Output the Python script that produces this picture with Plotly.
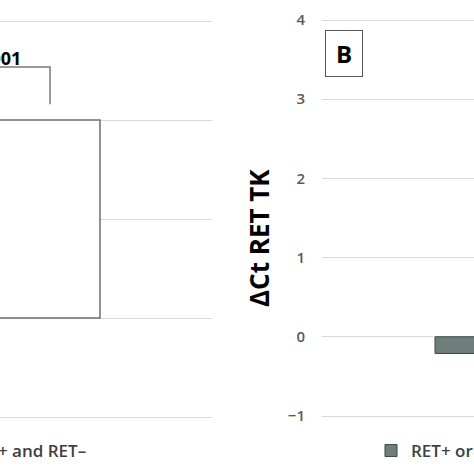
import plotly.graph_objs as go

# --------------
# Data
# --------------
# left panel (A): box of RET+ and RET- samples, only its right part is visible
left_categories = ["RET+ and RET–"]
left_pos = [0]
left_q1 = [2.0]
left_q3 = [6.0]
left_ticks = [0, 2, 4, 6, 8]
bracket_x = [-0.5, 0.137, 0.137]
bracket_y = [7.07, 7.07, 6.32]
p_label = "p < 0.001"

# right panel (B): delta Ct RET TK
right_categories = ["RET+ or RET–"]
right_values = [-0.21]
right_ticks = [-1, 0, 1, 2, 3, 4]

grid_col = "#d9d9d9"
text_col = "#595959"

fig = go.Figure()

# box drawn as a floating bar (q1 -> q3)
fig.add_trace(go.Bar(
    x=left_pos,
    y=[q3 - q1 for q1, q3 in zip(left_q1, left_q3)],
    base=left_q1,
    width=0.745,
    marker=dict(color="white", line=dict(color="#6d6d6d", width=1.5)),
    name=left_categories[0],
    xaxis="x", yaxis="y",
    legend="legend2",
))

# significance bracket
fig.add_trace(go.Scatter(
    x=bracket_x, y=bracket_y,
    mode="lines",
    line=dict(color="#7a7a7a", width=1.5),
    showlegend=False,
    xaxis="x", yaxis="y",
))

fig.add_trace(go.Bar(
    x=right_categories,
    y=right_values,
    width=0.6,
    marker=dict(color="#6e7e7a", line=dict(color="#3c4643", width=1)),
    name=right_categories[0],
    xaxis="x2", yaxis="y2",
    legend="legend",
))

fig.add_annotation(
    x=0.01, y=7.25, xref="x", yref="y",
    text="<b>" + p_label + "</b>",
    xanchor="right", yanchor="middle", showarrow=False,
    font=dict(family="Open Sans", size=18, color="black"),
)

fig.add_annotation(
    x=259 / 474, y=1 - 238 / 474, xref="paper", yref="paper",
    text="<b>ΔCt RET TK</b>",
    textangle=-90, showarrow=False,
    xanchor="center", yanchor="middle",
    font=dict(family="Open Sans", size=26, color="black"),
)

fig.add_annotation(
    x=344 / 474, y=1 - 53.5 / 474, xref="paper", yref="paper",
    text="<b>B</b>", showarrow=False,
    xanchor="center", yanchor="middle",
    width=36, height=45,
    bordercolor="#595959", borderwidth=1, borderpad=0,
    font=dict(family="Open Sans", size=24, color="black"),
)

legend_font = dict(family="Open Sans", size=17, color="#404040", weight=600)

fig.update_layout(
    width=474, height=474,
    margin=dict(l=0, r=0, t=0, b=0, autoexpand=False),
    paper_bgcolor="white", plot_bgcolor="white",
    xaxis=dict(domain=[0, 212 / 474], range=[-0.0991, 0.9009],
               showticklabels=False, showgrid=False, zeroline=False),
    yaxis=dict(range=[-1.1515, 8.4242], tickvals=left_ticks,
               showticklabels=False, showgrid=True, gridcolor=grid_col,
               gridwidth=1, zeroline=False),
    xaxis2=dict(domain=[322 / 474, 1], range=[-0.752, -0.144],
                showticklabels=False, showgrid=False, zeroline=False,
                type="category", anchor="y2"),
    yaxis2=dict(range=[-1.7323, 4.2525], tickvals=right_ticks,
                anchor="x2", showgrid=True, gridcolor=grid_col, gridwidth=1,
                zeroline=False, ticks="", ticklabelstandoff=16,
                tickfont=dict(family="Open Sans", size=15, color=text_col,
                              weight=600)),
    showlegend=True,
    legend=dict(x=371 / 474, y=1 - 451 / 474, xanchor="left", yanchor="middle",
                orientation="h", font=legend_font, bgcolor="rgba(0,0,0,0)"),
    legend2=dict(x=-72 / 474, y=1 - 451 / 474, xanchor="left", yanchor="middle",
                 orientation="h", font=legend_font, bgcolor="rgba(0,0,0,0)"),
)

# page has a default 8px body margin; drop it so the figure fills the window
fig.write_html("out.html", config={"displayModeBar": False},
               post_script="document.body.style.margin='0px';")
